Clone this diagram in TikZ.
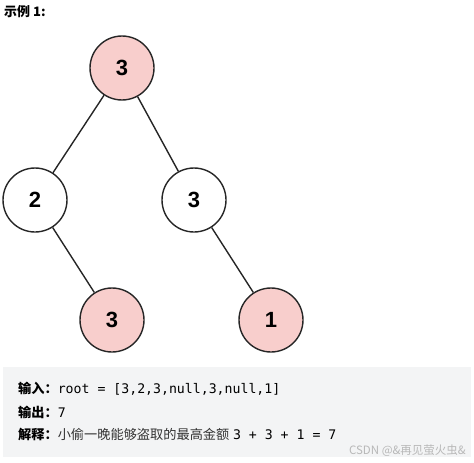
\documentclass[tikz,border=0pt]{standalone}
\usepackage{fontspec}
\setmainfont{Liberation Sans}
\setmonofont{DejaVu Sans Mono}
\newfontfamily\cjk{Noto Sans CJK SC}
\definecolor{pinkfill}{HTML}{F8CECC}
\definecolor{boxgray}{HTML}{F3F4F5}
\definecolor{wmgray}{HTML}{B8B8B8}
\begin{document}
\begin{tikzpicture}[x=1pt,y=-1pt,
  tnode/.style={circle,draw=black!85,line width=1.4pt,minimum size=64pt,inner sep=0pt,font=\fontsize{22}{22}\selectfont\bfseries},
  pinknode/.style={tnode,fill=pinkfill},
  whitenode/.style={tnode,fill=white},
  edge/.style={draw=black!85,line width=1.4pt},
  lbl/.style={anchor=west,inner sep=0pt,font=\fontsize{13.2}{14}\selectfont}]
\useasboundingbox (0,0) rectangle (474,463);
\node[anchor=west,inner sep=0pt,font=\cjk\bfseries\fontsize{13}{13}\selectfont] (title) at (4,12) {示例 1:};
\node[pinknode] (r) at (122,68) {3};
\node[whitenode] (a) at (35,200) {2};
\node[whitenode] (b) at (194,200) {3};
\node[pinknode] (c) at (112,320) {3};
\node[pinknode] (d) at (271,320) {1};
\draw[edge] (r) -- (a);
\draw[edge] (r) -- (b);
\draw[edge] (a) -- (c);
\draw[edge] (b) -- (d);
\fill[boxgray] (3,367) rectangle (471,457) coordinate (boxse);
\node[lbl] (l1) at (18,389) {{\cjk\bfseries 输入：}\ttfamily root = [3,2,3,null,3,null,1]};
\node[lbl] (l2) at (18,412) {{\cjk\bfseries 输出：}\ttfamily 7};
\node[lbl] (l3) at (18,434) {{\cjk\bfseries 解释：}{\cjk\color{black!80} 小偷一晚能够盗取的最高金额} \ttfamily 3 + 3 + 1 = 7};
\node[anchor=east,inner sep=0pt,text=wmgray,font=\cjk\fontsize{11.5}{11.5}\selectfont] (wm) at (466,451) {CSDN @\&再见萤火虫\&};
\end{tikzpicture}
\end{document}
